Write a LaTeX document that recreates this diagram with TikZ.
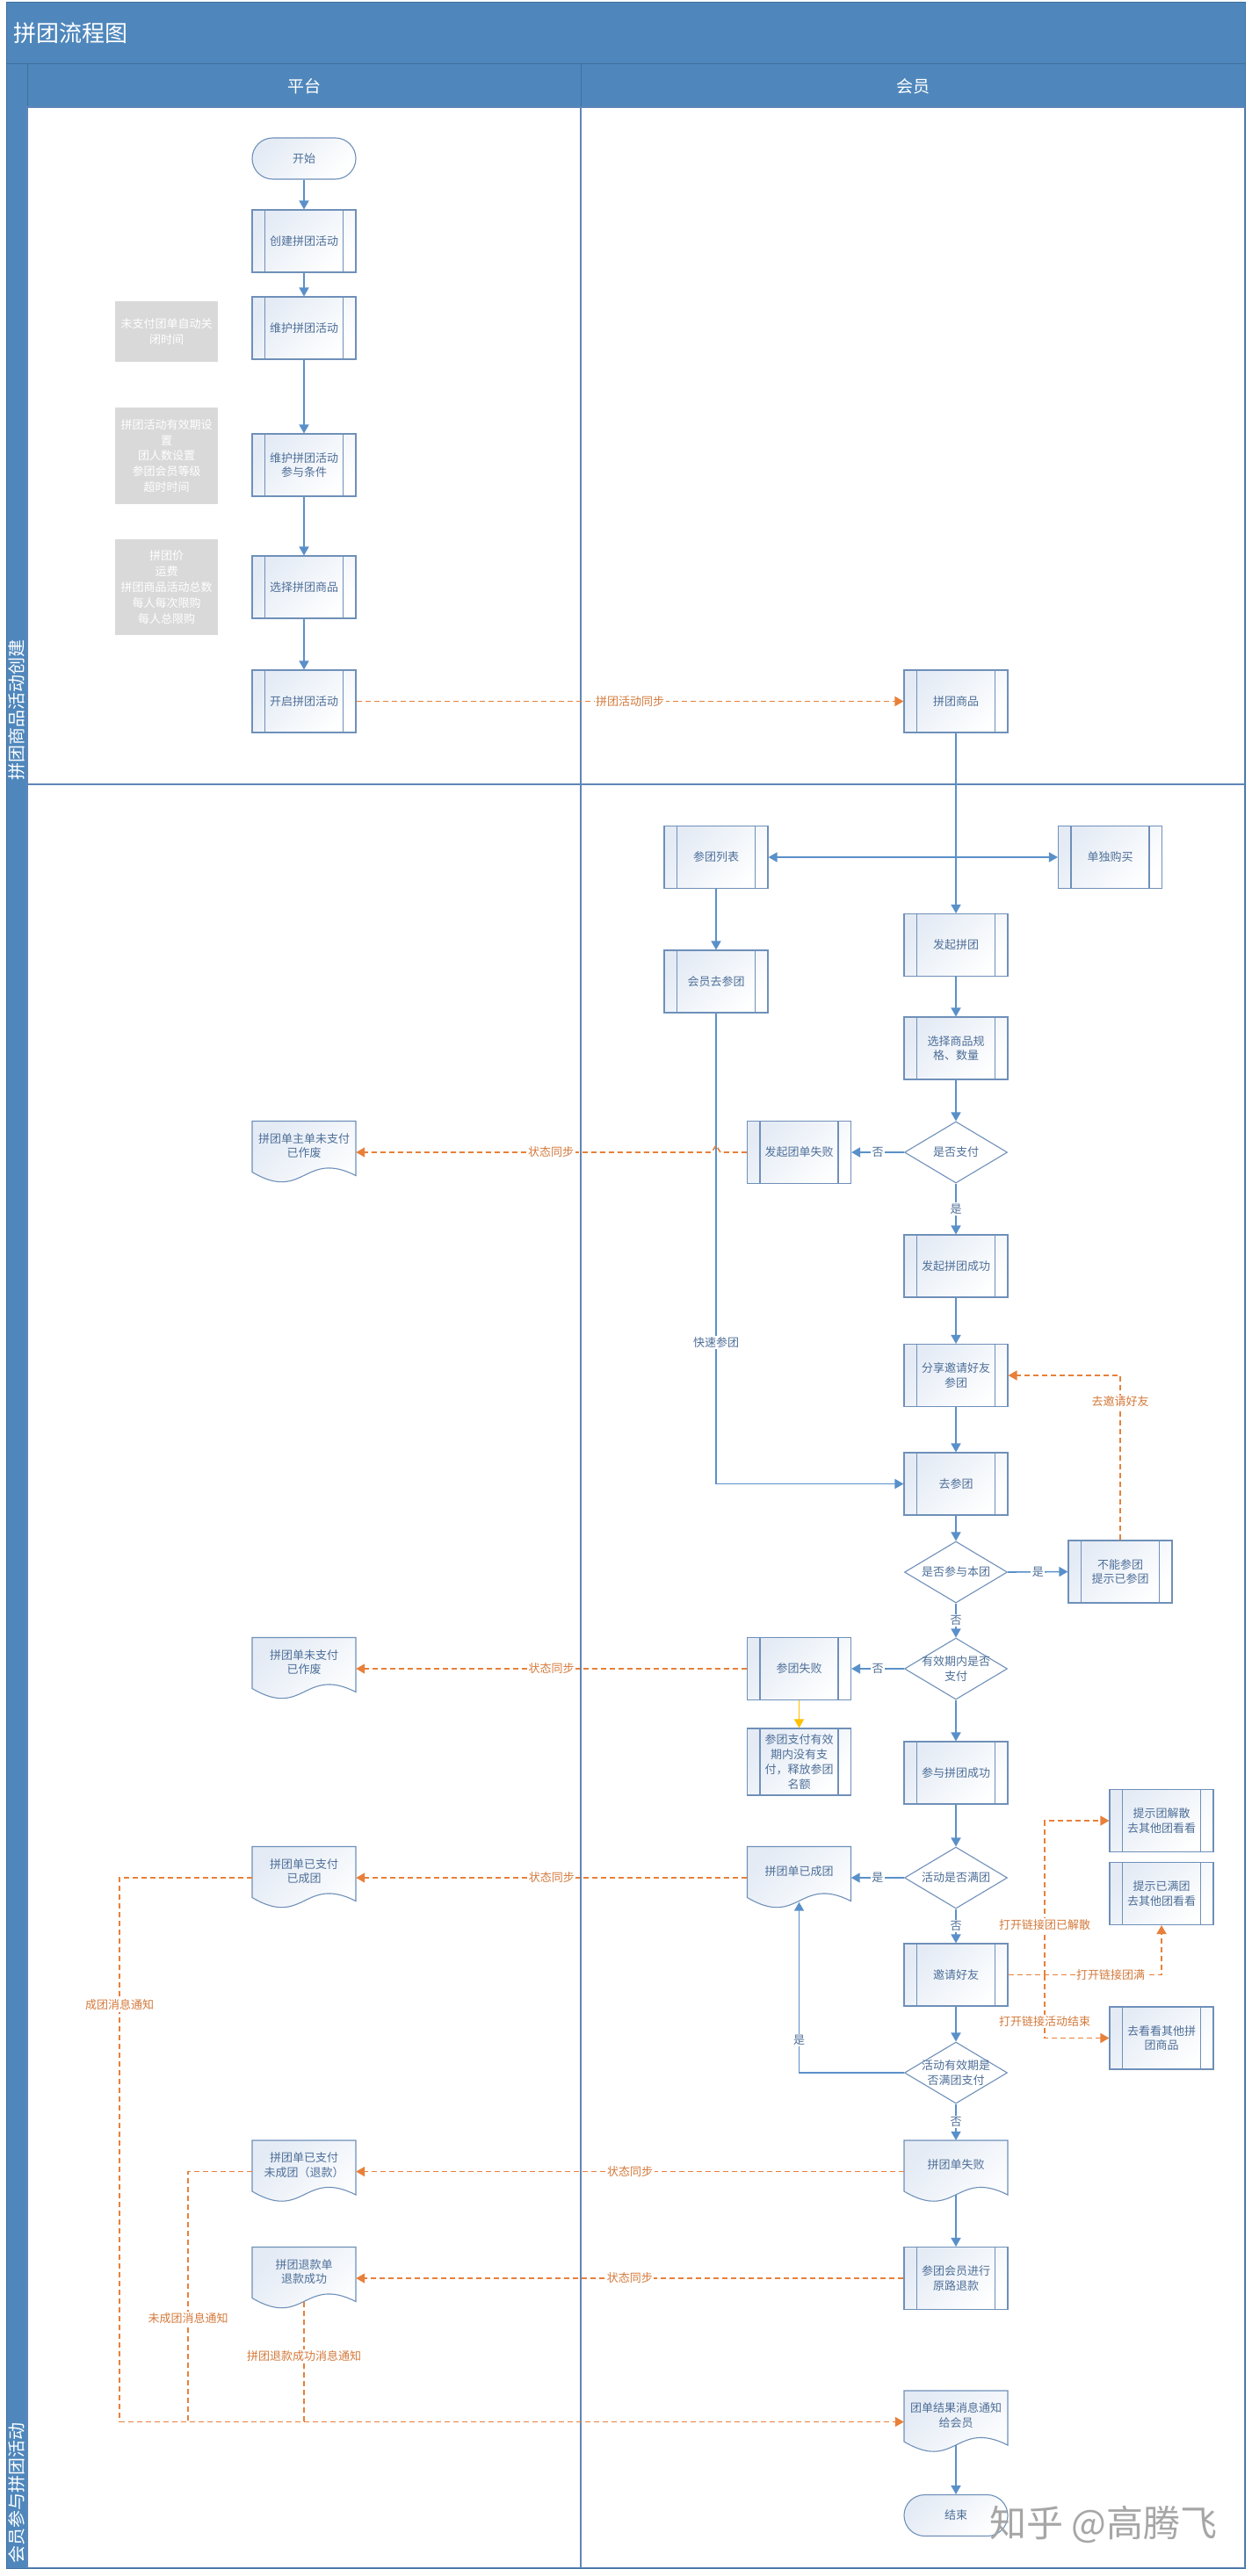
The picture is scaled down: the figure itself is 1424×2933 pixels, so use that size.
\documentclass[tikz,border=0pt]{standalone}
\usepackage{fontspec}
\setmainfont{Noto Sans CJK SC}
\usetikzlibrary{arrows.meta,shapes.geometric,calc}
\definecolor{hdr}{HTML}{4F87BC}
\definecolor{hdrline}{HTML}{3E6E9E}
\definecolor{laneline}{HTML}{5F86B8}
\definecolor{boxline}{HTML}{6F90B9}
\definecolor{boxtext}{HTML}{4E6F98}
\definecolor{boxtop}{HTML}{E4EBF5}
\definecolor{flowc}{HTML}{5A90C9}
\definecolor{orng}{HTML}{E8803A}
\definecolor{orngtext}{HTML}{D47A3C}
\definecolor{notegray}{HTML}{D9D9D9}
\definecolor{yel}{HTML}{FFC000}
\newcommand\fsz[2]{\fontsize{#1pt}{#2pt}\selectfont}
\newcommand\docnode[4]{%
  \path[docshape] (#2-59,#3) -- (#2+59,#3) -- (#2+59,#3+62) .. controls (#2,#3+32) and (#2,#3+93) .. (#2-59,#3+58) -- cycle;
  \node[docanchor] (#1) at (#2,#3+35.5) {};
  \node[dtext] at (#2,#3+28) {#4};
}
\begin{document}
\begin{tikzpicture}[x=1pt,y=-1pt,
  pbox/.style={draw=boxline, line width=1.1pt, minimum width=118pt, minimum height=71pt, inner sep=1pt,
     top color=boxtop, bottom color=white, shading angle=45,
     font=\fsz{13}{16.7}, text=boxtext, align=center,
     path picture={\draw[boxline, line width=1.1pt]
        ([xshift=14.5pt]path picture bounding box.north west) -- ([xshift=14.5pt]path picture bounding box.south west)
        ([xshift=-14.5pt]path picture bounding box.north east) -- ([xshift=-14.5pt]path picture bounding box.south east);}},
  termbox/.style={draw=boxline, line width=1.1pt, minimum width=118pt, minimum height=47pt, rounded corners=23.5pt,
     top color=boxtop, bottom color=white, shading angle=45, font=\fsz{13}{16.7}, text=boxtext},
  dia/.style={draw=boxline, line width=1.1pt, shape=diamond, aspect=1.67, minimum width=117pt, minimum height=70pt, inner sep=0pt, fill=white},
  dtext/.style={font=\fsz{13}{16.7}, text=boxtext, align=center, inner sep=0pt},
  docshape/.style={draw=boxline, line width=1.1pt, top color=boxtop, bottom color=white, shading angle=45},
  docanchor/.style={minimum width=118pt, minimum height=71pt, inner sep=0pt},
  notebox/.style={fill=notegray, minimum width=117pt, font=\fsz{13}{17.8}, text=white, align=center},
  flow/.style={draw=flowc, line width=1.6pt, -{Triangle[length=10pt,width=11pt]}},
  yflow/.style={draw=yel, line width=1.6pt, -{Triangle[length=10pt,width=11pt]}},
  sync/.style={draw=orng, line width=1.6pt, dash pattern=on 6pt off 4pt, -{Triangle[length=10pt,width=11pt]}},
  syncl/.style={draw=orng, line width=1.6pt, dash pattern=on 6pt off 4pt},
  blbl/.style={fill=white, font=\fsz{13}{16}, text=boxtext, inner sep=1.5pt},
  olbl/.style={fill=white, font=\fsz{13}{16}, text=orngtext, inner sep=1.5pt},
]
\useasboundingbox (0,0) rectangle (1424,2933);
\fill[white] (0,0) rectangle (1424,2933);
% ---------- frame ----------
\fill[hdr] (7,3) rectangle (1417,73);
\fill[hdr] (7,73) rectangle (1417,122);
\fill[hdr] (7,73) rectangle (31,2924);
\draw[hdrline, line width=1pt] (7,73) -- (1417,73);
\draw[hdrline, line width=1pt] (31,122) -- (1417,122);
\draw[hdrline, line width=1pt] (661,73) -- (661,122);
\draw[hdrline, line width=1pt] (31,73) -- (31,122);
\draw[laneline, line width=1.3pt] (31,122) rectangle (1417,2924);
\draw[laneline, line width=1.3pt] (31,893) -- (1417,893);
\draw[laneline, line width=1.3pt] (661,122) -- (661,2924);
\draw[hdrline, line width=1pt] (7,3) rectangle (1417,2924);
\node[anchor=west, text=white, font=\fsz{26}{30}, inner sep=0pt] (title) at (15,38) {拼团流程图};
\node[text=white, font=\fsz{19}{22}, inner sep=0pt] (hplat) at (346,98) {平台};
\node[text=white, font=\fsz{19}{22}, inner sep=0pt] (hmem) at (1039,98) {会员};
\node[rotate=90, anchor=west, text=white, font=\fsz{20}{24}, inner sep=0pt] (lane1) at (19,889) {拼团商品活动创建};
\node[rotate=90, anchor=west, text=white, font=\fsz{20}{24}, inner sep=0pt] (lane2) at (19,2919) {会员参与拼团活动};
% ---------- platform: creation ----------
\node[termbox] (start) at (346,180.5) {开始};
\node[pbox] (cj) at (346,274.5) {创建拼团活动};
\node[pbox] (wh1) at (346,373.5) {维护拼团活动};
\node[pbox] (wh2) at (346,529.5) {维护拼团活动\\参与条件};
\node[pbox] (xz) at (346,668.5) {选择拼团商品};
\node[pbox] (kq) at (346,798.5) {开启拼团活动};
\node[notebox, minimum height=69pt] (n1) at (189.5,377.5) {未支付团单自动关\\闭时间};
\node[notebox, minimum height=110pt] (n2) at (189.5,519) {拼团活动有效期设\\置\\团人数设置\\参团会员等级\\超时时间};
\node[notebox, minimum height=109pt] (n3) at (189.5,668.5) {拼团价\\运费\\拼团商品活动总数\\每人每次限购\\每人总限购};
\draw[flow] (start.south) -- (cj.north);
\draw[flow] (cj.south) -- (wh1.north);
\draw[flow] (wh1.south) -- (wh2.north);
\draw[flow] (wh2.south) -- (xz.north);
\draw[flow] (xz.south) -- (kq.north);
% ---------- member ----------
\node[pbox] (pgsp) at (1088,798.5) {拼团商品};
\draw[sync] (kq.east) -- node[olbl]{拼团活动同步} (pgsp.west);
\node[pbox] (ctlb) at (815,976) {参团列表};
\node[pbox] (ddgm) at (1263.5,976) {单独购买};
\node[pbox] (fqpt) at (1088,1076) {发起拼团};
\node[pbox] (hyqct) at (815,1117.5) {会员去参团};
\node[pbox] (xzgg) at (1088,1193.5) {选择商品规\\格、数量};
\node[dia, label={[dtext]center:{是否支付}}] (d1) at (1088,1312) {};
\node[pbox] (fqsb) at (909.5,1312) {发起团单失败};
\node[pbox] (fqcg) at (1088,1441.5) {发起拼团成功};
\node[pbox] (share) at (1088,1566) {分享邀请好友\\参团};
\node[pbox] (qct) at (1088,1689.5) {去参团};
\node[dia, label={[dtext]center:{是否参与本团}}] (d2) at (1088,1790) {};
\node[pbox] (bnct) at (1275,1789.5) {不能参团\\提示已参团};
\node[dia, label={[dtext]center:{有效期内是否\\支付}}] (d3) at (1088,1900) {};
\node[pbox] (ctsb) at (909.5,1900) {参团失败};
\node[pbox, minimum height=76pt] (ctzf) at (909.5,2006) {参团支付有效\\期内没有支\\付，释放参团\\名额};
\node[pbox] (cycg) at (1088,2018.5) {参与拼团成功};
\node[pbox] (tsjs) at (1322,2073) {提示团解散\\去其他团看看};
\node[pbox] (tsym) at (1322,2156) {提示已满团\\去其他团看看};
\node[dia, label={[dtext]center:{活动是否满团}}] (d4) at (1088,2138) {};
\docnode{ycm}{909.5}{2102.5}{拼团单已成团}
\node[pbox] (yqhy) at (1088,2248.5) {邀请好友};
\node[dia, label={[dtext]center:{活动有效期是\\否满团支付}}] (d5) at (1088,2360) {};
\node[pbox] (qkk) at (1322,2320.5) {去看看其他拼\\团商品};
\docnode{ptsb}{1088}{2437}{拼团单失败}
\node[pbox] (tk) at (1088,2594) {参团会员进行\\原路退款};
\docnode{notify}{1088}{2722}{团单结果消息通知\\给会员}
\node[termbox] (end) at (1088,2864) {结束};
% ---------- platform docs ----------
\docnode{zf1}{346}{1276.5}{拼团单主单未支付\\已作废}
\docnode{zf2}{346}{1864.5}{拼团单未支付\\已作废}
\docnode{ycp}{346}{2102.5}{拼团单已支付\\已成团}
\docnode{wct}{346}{2437}{拼团单已支付\\未成团（退款）}
\docnode{tkd}{346}{2558.5}{拼团退款单\\退款成功}
% ---------- member flow ----------
\draw[flow] (pgsp.south) -- (fqpt.north);
\draw[flow] (pgsp.south) |- (ctlb.east);
\draw[flow] (pgsp.south) |- (ddgm.west);
\draw[flow] (ctlb.south) -- (hyqct.north);
\draw[flow] (fqpt.south) -- (xzgg.north);
\draw[flow] (xzgg.south) -- (d1.north);
\draw[flow] (d1.west) -- node[blbl]{否} (fqsb.east);
\draw[flow] (d1.south) -- node[blbl]{是} (fqcg.north);
\draw[flow] (fqcg.south) -- (share.north);
\draw[flow] (share.south) -- (qct.north);
\draw[flow] (hyqct.south) |- node[blbl, pos=0.35]{快速参团} (qct.west);
\draw[flow] (qct.south) -- (d2.north);
\draw[flow] (d2.east) -- node[blbl]{是} (bnct.west);
\draw[flow] (d2.south) -- node[blbl]{否} (d3.north);
\draw[flow] (d3.west) -- node[blbl]{否} (ctsb.east);
\draw[flow] (d3.south) -- (cycg.north);
\draw[yflow] (ctsb.south) -- (ctzf.north);
\draw[flow] (cycg.south) -- (d4.north);
\draw[flow] (d4.west) -- node[blbl]{是} (ycm.east);
\draw[flow] (d4.south) -- node[blbl]{否} (yqhy.north);
\draw[flow] (yqhy.south) -- (d5.north);
\draw[flow] (d5.west) -| node[blbl, pos=0.595]{是} ([yshift=8pt]ycm.south);
\draw[flow] (d5.south) -- node[blbl]{否} (ptsb.north);
\draw[flow] ([yshift=9pt]ptsb.south) -- (tk.north);
\draw[flow] ([yshift=9pt]notify.south) -- (end.north);
% ---------- sync lines ----------
\coordinate (hop) at (815,1312);
\draw[sync] (fqsb.west) -- ($(hop)+(5,0)$) -- ($(hop)+(0,-8)$) -- ($(hop)+(-5,0)$) -- node[olbl,pos=0.452]{状态同步} (zf1.east);
\draw[sync] (ctsb.west) -- node[olbl]{状态同步} (zf2.east);
\draw[sync] (ycm.west) -- node[olbl]{状态同步} (ycp.east);
\draw[sync] (ptsb.west) -- node[olbl]{状态同步} (wct.east);
\draw[sync] (tk.west) -- node[olbl]{状态同步} (tkd.east);
\draw[sync] (bnct.north) |- node[olbl, pos=0.42]{去邀请好友} (share.east);
\coordinate (jn) at (1189,2248.5);
\draw[syncl] (yqhy.east) -- (jn);
\draw[sync] (jn) |- node[olbl,pos=0.162]{打开链接团已解散} (tsjs.west);
\draw[sync] (yqhy.east) -| node[olbl,pos=0.334]{打开链接团满} (tsym.south);
\draw[sync] (jn) |- node[olbl,pos=0.37]{打开链接活动结束} (qkk.west);
\coordinate (b1) at (136,2757.5);
\coordinate (b2) at (214,2757.5);
\coordinate (b3) at (346,2757.5);
\draw[sync] (ycp.west) -| node[olbl,pos=0.617]{成团消息通知} (b1) -- (notify.west);
\draw[syncl] (wct.west) -| node[olbl,pos=0.793]{未成团消息通知} (b2);
\draw[syncl] ([yshift=9pt]tkd.south) -- node[olbl,pos=0.45]{拼团退款成功消息通知} (b3);
% ---------- watermark ----------
\node[text=black!35, font=\fsz{42}{46}, inner sep=0pt] (wm) at (1256,2874) {知乎 @高腾飞};
\end{tikzpicture}
\end{document}
